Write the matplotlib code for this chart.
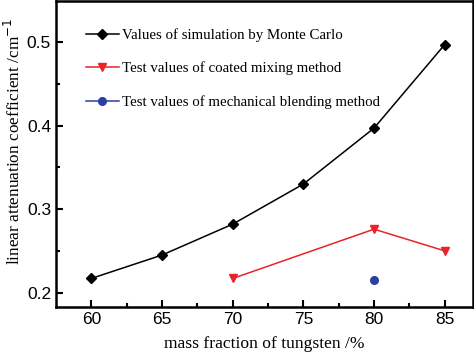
import matplotlib
matplotlib.use("Agg")
import matplotlib.pyplot as plt

# values
mass_mc = [60, 65, 70, 75, 80, 85]
mu_mc = [0.217, 0.245, 0.282, 0.330, 0.397, 0.497]

mass_coated = [70, 80, 85]
mu_coated = [0.217, 0.276, 0.250]

mass_mech = [80]
mu_mech = [0.215]

x_ticks = [60, 65, 70, 75, 80, 85]
y_ticks = [0.2, 0.3, 0.4, 0.5]

fig = plt.figure(figsize=(4.74, 3.56), dpi=100)
ax = fig.add_axes([0.118, 0.138, 0.88, 0.859])

ax.plot(mass_mc, mu_mc, color="black", lw=1.1, marker="D", ms=5,
        label="Values of simulation by Monte Carlo")
ax.plot(mass_coated, mu_coated, color="#e8232a", lw=1.1, marker="v", ms=6,
        label="Test values of coated mixing method")
ax.plot(mass_mech, mu_mech, color="#2a3fa0", lw=1.1, marker="o", ms=5.5,
        label="Test values of mechanical blending method")

ax.set_xlim(57.5, 87.0)
ax.set_ylim(0.183, 0.549)
ax.set_xticks(x_ticks)
ax.set_yticks(y_ticks)
ax.set_xticks([62.5, 67.5, 72.5, 77.5, 82.5], minor=True)
ax.set_yticks([0.25, 0.35, 0.45], minor=True)
ax.set_yticklabels([str(v) for v in y_ticks])

for s in ax.spines.values():
    s.set_linewidth(1.8)
ax.tick_params(which="both", direction="in", width=1.5)
ax.tick_params(which="major", length=5, labelsize=12.5)
ax.tick_params(which="minor", length=3)
for t in ax.get_xticklabels() + ax.get_yticklabels():
    t.set_family("Liberation Sans")

ax.set_xlabel("mass fraction of tungsten /%", family="Liberation Serif", fontsize=12.6, labelpad=7)
ax.set_ylabel("linear attenuation coefficient /cm$^{-1}$", family="Liberation Serif", fontsize=12.4)
ax.yaxis.set_label_coords(-0.1, 0.54)
ax.yaxis.label.set_va("center")

leg = ax.legend(loc="upper left", frameon=False, bbox_to_anchor=(0.04, 0.955),
                prop={"family": "Liberation Serif", "size": 10.7},
                labelspacing=1.32, handlelength=2.2, handletextpad=0.2)

fig.savefig("out.png", dpi=100)
